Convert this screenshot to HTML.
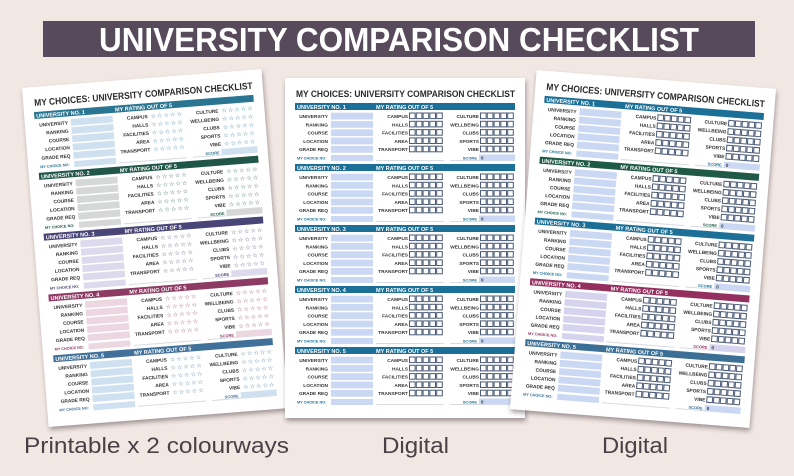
<!DOCTYPE html>
<html><head><meta charset="utf-8">
<style>
html,body{margin:0;padding:0;background:#f1e7e3;}
svg{display:block;font-family:"Liberation Sans",sans-serif;}
</style></head>
<body>
<svg id="root" width="794" height="476" viewBox="0 0 794 476" xmlns="http://www.w3.org/2000/svg">
<defs>
<filter id="sh" x="-10%" y="-10%" width="120%" height="120%"><feDropShadow dx="1" dy="3" stdDeviation="2.5" flood-color="#3a2e33" flood-opacity="0.45"/></filter>
</defs>
<rect width="794" height="476" fill="#f1e7e3"/>
<rect x="43" y="21" width="712" height="36" fill="#574a5a"/>
<text x="399" y="51" text-anchor="middle" font-size="33" font-weight="bold" fill="#ffffff" textLength="600" lengthAdjust="spacingAndGlyphs">UNIVERSITY COMPARISON CHECKLIST</text>
<g id="sheets"></g>
<text x="24" y="453" font-size="22" fill="#4a4046" textLength="265" lengthAdjust="spacingAndGlyphs">Printable x 2 colourways</text>
<text x="382" y="453" font-size="22" fill="#4a4046" textLength="67" lengthAdjust="spacingAndGlyphs">Digital</text>
<text x="602" y="453" font-size="22" fill="#4a4046" textLength="66" lengthAdjust="spacingAndGlyphs">Digital</text>
</svg>
<script>
const NS='http://www.w3.org/2000/svg';
const leftLabels=['UNIVERSITY','RANKING','COURSE','LOCATION','GRADE REQ'];
const midLabels=['CAMPUS','HALLS','FACILITIES','AREA','TRANSPORT'];
const rightLabels=['CULTURE','WELLBEING','CLUBS','SPORTS','VIBE'];
const sheetDefs=[
 {name:'printable-sheet',cx:155,cy:248,rot:-4.5,stars:true,
  colors:['#2a7592','#1f5648','#4a4577','#8d3b65','#41719a'],
  fills:['#cfe1f1','#d5d8d6','#dcdaec','#ecd7e1','#cfe1f1']},
 {name:'digital-sheet-1',cx:405,cy:248,rot:0,stars:false,
  colors:['#1c6f96','#1c6f96','#1c6f96','#1c6f96','#1c6f96'],
  fills:['#cbd8f3','#cbd8f3','#cbd8f3','#cbd8f3','#cbd8f3']},
 {name:'digital-sheet-2',cx:643,cy:249,rot:4.5,stars:false,
  colors:['#1c6f96','#1e5a45','#1c6f96','#94305f','#3b6f95'],
  fills:['#cbd8f3','#cbd8f3','#cbd8f3','#d6d3ee','#cbd8f3']}
];
function mk(tag,attrs,parent){const e=document.createElementNS(NS,tag);for(const k in attrs)e.setAttribute(k,attrs[k]);parent.appendChild(e);return e;}
function txt(parent,x,y,s,size,fill,anchor,w){const t=mk('text',{x:x,y:y,'font-size':size,'font-weight':'bold',fill:fill,'text-anchor':anchor||'start'},parent);if(w){t.setAttribute('textLength',w);t.setAttribute('lengthAdjust','spacingAndGlyphs');}t.textContent=s;return t;}
const root=document.getElementById('sheets');
sheetDefs.forEach(d=>{
 const g=mk('g',{transform:`translate(${d.cx-120},${d.cy-170}) rotate(${d.rot},120,170)`},root);
 
 
 const paper=mk('rect',{x:0,y:0,width:240,height:340,fill:'#ffffff',filter:'url(#sh)'},g);
 
 
 const title=txt(g,11,19,'MY CHOICES: UNIVERSITY COMPARISON CHECKLIST',9.5,'#2a2a2a','start',219);
 
 
 for(let s=0;s<5;s++){
  const y0=25+s*61, col=d.colors[s], fill=d.fills[s];
  const sec=mk('g',{},g);
  
  
  mk('rect',{x:10,y:y0,width:220,height:7,fill:col},sec);
  txt(sec,12,y0+5.8,'UNIVERSITY NO. '+(s+1),5.5,'#ffffff');
  txt(sec,91,y0+5.8,'MY RATING OUT OF 5',5.5,'#ffffff');
  for(let r=0;r<5;r++){
   const yc=y0+13+r*8.3;
   txt(sec,43,yc+2,leftLabels[r],4.8,'#333333','end');
   const inp=mk('rect',{x:46,y:yc-3.3,width:42,height:6.8,fill:fill},sec);
   
   
   txt(sec,123,yc+2,midLabels[r],4.8,'#333333','end');
   txt(sec,194,yc+2,rightLabels[r],4.8,'#333333','end');
   for(let b=0;b<5;b++){
    if(d.stars){
     const st=txt(sec,126+b*6.5,yc+2.3,'☆',6,col);
     st.setAttribute('font-weight','normal');
     const st2=txt(sec,197+b*6.5,yc+2.3,'☆',6,col);
     st2.setAttribute('font-weight','normal');
    } else {
     const b1=mk('rect',{x:124.5+b*6.8,y:yc-3,width:5.6,height:5.6,fill:'#ffffff',stroke:'#4a5a78','stroke-width':1},sec);
     
     
     const b2=mk('rect',{x:195.5+b*6.8,y:yc-3,width:5.6,height:5.6,fill:'#ffffff',stroke:'#4a5a78','stroke-width':1},sec);
     
     
    }
   }
  }
  const ym=y0+55;
  txt(sec,12,ym+1.5,'MY CHOICE NO:',3.8,col);
  mk('rect',{x:46,y:ym-3,width:42,height:6,fill:fill},sec);
  mk('rect',{x:91,y:ym+2,width:68,height:1,fill:'#d8dbe3'},sec);
  mk('rect',{x:165,y:ym+2,width:65,height:1,fill:'#d8dbe3'},sec);
  mk('rect',{x:194,y:ym-3.5,width:36,height:6,fill:fill},sec);
  txt(sec,192,ym+1.5,'SCORE',4,col,'end');
  if(!d.stars) txt(sec,196,ym+1.5,'0',4.5,'#333333');
 }
});
</script>
</body></html>
